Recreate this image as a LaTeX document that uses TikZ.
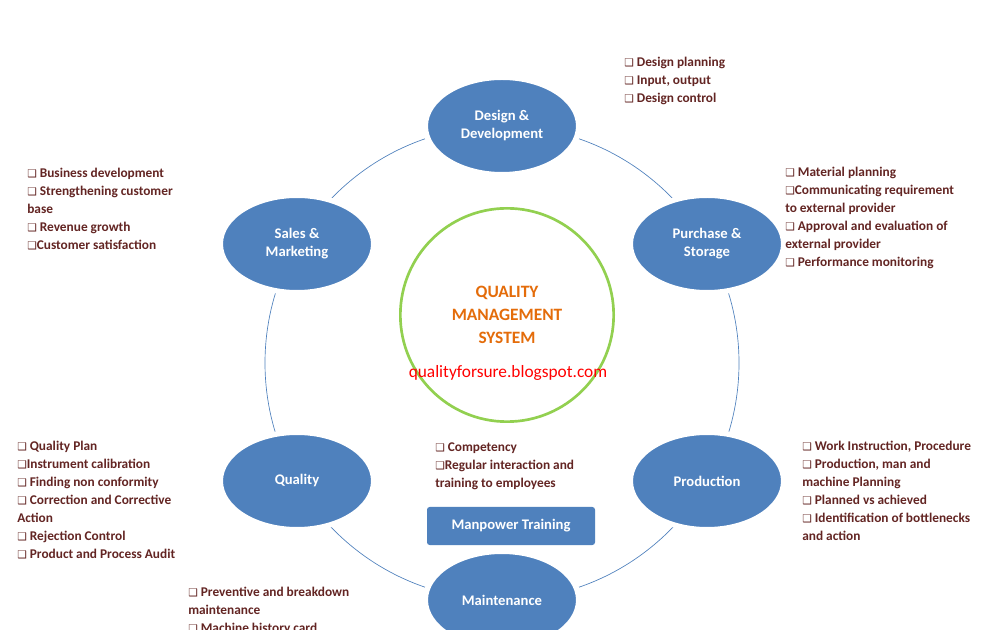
\documentclass[tikz,border=0pt]{standalone}
\usetikzlibrary{shapes.geometric}
\usepackage{fontspec}
\setmainfont{Carlito}
\newfontfamily\djvfont{DejaVu Sans}
\newcommand{\bx}{{\djvfont\fontsize{8}{10}\selectfont ❑}}
\definecolor{bluefill}{HTML}{4F81BD}
\definecolor{txtred}{HTML}{632523}
\definecolor{grn}{HTML}{92D050}
\definecolor{org}{HTML}{E46C0A}
\begin{document}
\begin{tikzpicture}[x=0.75pt,y=-0.75pt,
  unit/.style={ellipse,fill=bluefill,draw=white,line width=4pt,minimum width=115pt,minimum height=73pt,inner sep=0pt,text=white,font=\bfseries\fontsize{11}{13.5}\selectfont,align=center},
  info/.style={anchor=north west,inner sep=0pt,align=left,text=txtred,font=\bfseries\fontsize{10}{13.5}\selectfont}]
\clip (0,0) rectangle (1003,630);
\fill[white] (0,0) rectangle (1003,630);
\node[circle,draw=bluefill,line width=0.5pt,minimum size=355.5pt,inner sep=0pt] (ring) at (502,363) {};
\node[circle,draw=grn,line width=2pt,minimum size=160pt,inner sep=0pt] (qms) at (507,315) {};
\node[text=org,font=\bfseries\fontsize{13}{17}\selectfont,align=center] (qmst) at (507,315) {QUALITY\\MANAGEMENT\\SYSTEM};
\node[text=red,font=\fontsize{13}{15}\selectfont] (url) at (508,373) {qualityforsure.blogspot.com};
\node[unit] (dd) at (502,126) {Design \&\\Development};
\node[unit] (sm) at (297,244) {Sales \&\\Marketing};
\node[unit] (ps) at (707,244) {Purchase \&\\Storage};
\node[unit] (q) at (297,481) {Quality};
\node[unit] (p) at (707,481) {Production};
\node[unit] (m) at (502,600) {Maintenance};
\node[fill=bluefill,rounded corners=2pt,minimum width=126pt,minimum height=28.5pt,text=white,font=\bfseries\fontsize{11}{13}\selectfont] (mt) at (511,526) {Manpower Training};
\node[info] (i1) at (624,57) {\bx\ Design planning\\\bx\ Input, output\\\bx\ Design control};
\node[info] (i2) at (27,168) {\bx\ Business development\\\bx\ Strengthening customer\\base\\\bx\ Revenue growth\\\bx Customer satisfaction};
\node[info] (i3) at (785,167) {\bx\ Material planning\\\bx Communicating requirement\\to external provider\\\bx\ Approval and evaluation of\\external provider\\\bx\ Performance monitoring};
\node[info] (i4) at (17,441) {\bx\ Quality Plan\\\bx Instrument calibration\\\bx\ Finding non conformity\\\bx\ Correction and Corrective\\Action\\\bx\ Rejection Control\\\bx\ Product and Process Audit};
\node[info] (i5) at (435,442) {\bx\ Competency\\\bx Regular interaction and\\training to employees};
\node[info] (i6) at (802,441) {\bx\ Work Instruction, Procedure\\\bx\ Production, man and\\machine Planning\\\bx\ Planned vs achieved\\\bx\ Identification of bottlenecks\\and action};
\node[info] (i7) at (188,587) {\bx\ Preventive and breakdown\\maintenance\\\bx\ Machine history card};
\end{tikzpicture}
\end{document}
